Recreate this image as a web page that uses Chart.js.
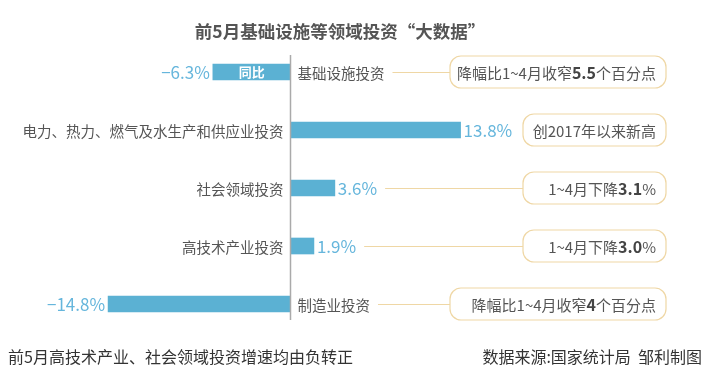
<!DOCTYPE html>
<html>
<head>
<meta charset="utf-8">
<script src="https://cdn.jsdelivr.net/npm/chart.js@4/dist/chart.umd.min.js"></script>
<style>
  html, body { margin: 0; padding: 0; background: #fff; }
  #wrap { width: 708px; height: 388px; }
</style>
</head>
<body>
<div id="wrap"><canvas id="investChart" width="708" height="388"></canvas></div>
<script>
const categories = ['基础设施投资', '电力、热力、燃气及水生产和供应业投资', '社会领域投资', '高技术产业投资', '制造业投资'];
const values = [-6.3, 13.8, 3.6, 1.9, -14.8];
const notePre = ['降幅比1~4月收窄', '创2017年以来新高', '1~4月下降', '1~4月下降', '降幅比1~4月收窄'];
const noteNum = ['5.5', '', '3.1', '3.0', '4'];
const notePost = ['个百分点', '', '%', '%', '个百分点'];

const FONT = '"Noto Sans CJK SC", "Noto Sans", sans-serif';
const BAR = '#5bb1d3';
const VALUE_COLOR = '#66b6dc';
const TEXT = '#555';
const BOX = '#efd7a5';

function fmt(v) {
	return (v < 0 ? '\u2212' + Math.abs(v) : v) + '%';
}

const labelPlugin = {
	id: 'labelPlugin',
	afterDatasetsDraw(chart) {
		const ctx = chart.ctx;
		const x = chart.scales.x;
		const meta = chart.getDatasetMeta(0);
		const zero = x.getPixelForValue(0);
		ctx.save();

		// title
		ctx.fillStyle = '#555';
		ctx.font = 'bold 17.5px ' + FONT;
		ctx.textAlign = 'center';
		ctx.textBaseline = 'middle';
		ctx.fillText('前5月基础设施等领域投资“大数据”', 340, 31);

		// zero line
		const first = meta.data[0].y, last = meta.data[meta.data.length - 1].y;
		ctx.strokeStyle = '#aaa';
		ctx.lineWidth = 1.5;
		ctx.beginPath();
		ctx.moveTo(zero, first - 17);
		ctx.lineTo(zero, last + 16);
		ctx.stroke();

		meta.data.forEach((bar, i) => {
			const v = values[i];
			const y = bar.y;
			let textEnd;

			// category label
			ctx.font = '14.5px ' + FONT;
			ctx.fillStyle = TEXT;
			ctx.textBaseline = 'middle';
			if (v >= 0) {
				ctx.textAlign = 'right';
				ctx.fillText(categories[i], zero - 7, y + 1);
			} else {
				ctx.textAlign = 'left';
				ctx.fillText(categories[i], zero + 7, y + 1);
				textEnd = zero + 7 + ctx.measureText(categories[i]).width;
			}

			// value label
			ctx.font = '17px ' + FONT;
			ctx.fillStyle = VALUE_COLOR;
			if (v >= 0) {
				ctx.textAlign = 'left';
				ctx.fillText(fmt(v), bar.x + 3, y + 1);
				textEnd = bar.x + 3 + ctx.measureText(fmt(v)).width;
			} else {
				ctx.textAlign = 'right';
				ctx.fillText(fmt(v), bar.x - 3, y + 1);
			}

			// "同比" tag inside first bar
			if (i === 0) {
				ctx.font = 'bold 13px ' + FONT;
				ctx.fillStyle = '#fff';
				ctx.textAlign = 'center';
				ctx.fillText('同比', (bar.x + zero) / 2, y);
			}

			// note box
			const boldFont = 'bold 16px ' + FONT;
			const normFont = '15px ' + FONT;
			ctx.font = normFont;
			const wPre = ctx.measureText(notePre[i]).width;
			const wPost = ctx.measureText(notePost[i]).width;
			ctx.font = boldFont;
			const wNum = ctx.measureText(noteNum[i]).width;
			const total = wPre + wNum + wPost;
			const boxR = 666;
			const boxW = total > 130 ? 216 : 143;
			const boxL = boxR - boxW;
			const boxH = 32;
			ctx.strokeStyle = BOX;
			ctx.lineWidth = 1.2;
			ctx.beginPath();
			ctx.roundRect(boxL, y - boxH / 2, boxW, boxH, 11);
			ctx.stroke();

			let tx = boxR - 10 - total;
			ctx.textAlign = 'left';
			ctx.fillStyle = TEXT;
			ctx.font = normFont;
			ctx.fillText(notePre[i], tx, y + 1);
			tx += wPre;
			ctx.font = boldFont;
			ctx.fillStyle = '#444';
			ctx.fillText(noteNum[i], tx, y + 1);
			tx += wNum;
			ctx.font = normFont;
			ctx.fillStyle = TEXT;
			ctx.fillText(notePost[i], tx, y + 1);

			// leader line
			if (boxL - (textEnd + 8) > 15) {
				ctx.strokeStyle = BOX;
				ctx.lineWidth = 1;
				ctx.beginPath();
				ctx.moveTo(textEnd + 8, y + 0.5);
				ctx.lineTo(boxL, y + 0.5);
				ctx.stroke();
			}
		});

		// footer
		ctx.font = '16px ' + FONT;
		ctx.fillStyle = '#333';
		ctx.textAlign = 'left';
		ctx.fillText('前5月高技术产业、社会领域投资增速均由负转正', 8, 357);
		ctx.textAlign = 'right';
		ctx.fillText('数据来源:国家统计局  邹利制图', 702, 357);
		ctx.restore();
	}
};

new Chart(document.getElementById('investChart'), {
	type: 'bar',
	data: {
		labels: categories,
		datasets: [{
			label: '同比',
			data: values,
			backgroundColor: BAR,
			borderWidth: 0,
			barThickness: 16
		}]
	},
	options: {
		indexAxis: 'y',
		responsive: false,
		animation: false,
		layout: {
			padding: { left: 44, right: 171, top: 43, bottom: 55 }
		},
		scales: {
			x: { display: false, min: -20, max: 20 },
			y: { display: false }
		},
		plugins: {
			legend: { display: false },
			tooltip: { enabled: false }
		}
	},
	plugins: [labelPlugin]
});
</script>
</body>
</html>
